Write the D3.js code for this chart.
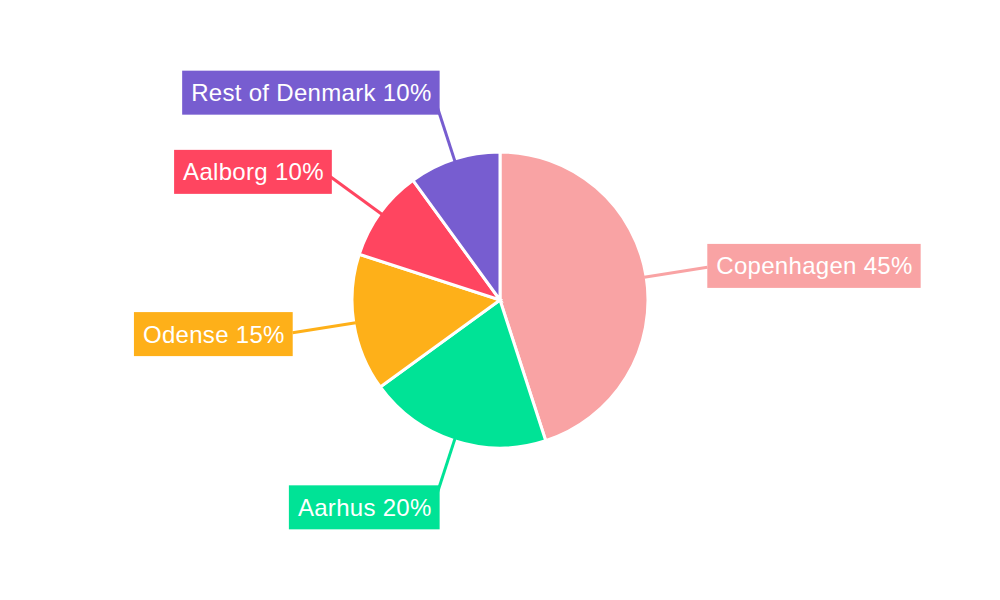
<!DOCTYPE html>
<html>
<head>
<meta charset="utf-8">
<script src="https://cdn.jsdelivr.net/npm/d3@7"></script>
<style>
  body { margin: 0; background: #fff; }
  text { font-family: "Liberation Sans", Arial, sans-serif; }
</style>
</head>
<body>
<svg id="chart" width="1000" height="600"></svg>
<script>
var regions = ['Copenhagen', 'Aarhus', 'Odense', 'Aalborg', 'Rest of Denmark'];
var shares = [45, 20, 15, 10, 10];
var colors = ['#F9A3A4', '#00E396', '#FEB019', '#FF4560', '#775DD0'];

var W = 1000, H = 600;
var cx = 500, cy = 300;
var radius = 148;
var labelR = 210;
var pad = 8.5;

var svg = d3.select('#chart');
var g = svg.append('g').attr('transform', 'translate(' + cx + ',' + cy + ')');

var data = regions.map(function (r, i) { return { name: r, val: shares[i], color: colors[i] }; });

var pie = d3.pie().sort(null).value(function (d) { return d.val; });
var arcs = pie(data);

var arc = d3.arc().innerRadius(0).outerRadius(radius);

// slices
g.selectAll('path.slice')
  .data(arcs)
  .enter()
  .append('path')
  .attr('class', 'slice')
  .attr('d', arc)
  .style('fill', function (d) { return d.data.color; })
  .style('stroke', '#fff')
  .style('stroke-width', 3);

function midAngle(d) { return (d.startAngle + d.endAngle) / 2; }

function pointAt(a, r) {
  return [r * Math.sin(a), -r * Math.cos(a)];
}

// connector lines
g.selectAll('line.conn')
  .data(arcs)
  .enter()
  .append('line')
  .attr('class', 'conn')
  .each(function (d) {
    var a = midAngle(d);
    var p0 = pointAt(a, radius - 2);
    var p1 = pointAt(a, labelR);
    d3.select(this)
      .attr('x1', p0[0]).attr('y1', p0[1])
      .attr('x2', p1[0]).attr('y2', p1[1]);
  })
  .style('stroke', function (d) { return d.data.color; })
  .style('stroke-width', 3);

// label boxes
var labels = g.selectAll('g.lbl')
  .data(arcs)
  .enter()
  .append('g')
  .attr('class', 'lbl');

labels.each(function (d) {
  var a = midAngle(d);
  var p = pointAt(a, labelR);
  var right = Math.sin(a) >= 0;
  var c = Math.cos(a);

  var grp = d3.select(this);
  var rect = grp.append('rect').style('fill', d.data.color);
  var txt = grp.append('text')
    .text(d.data.name + ' ' + d.data.val + '%')
    .style('font-size', '24px')
    .style('letter-spacing', '0.3px')
    .style('fill', '#fff');

  var tw = txt.node().getComputedTextLength();
  var bw = tw + pad * 2;
  var bh = 44;
  var xOff = 5 * c * c;
  var x0 = right ? p[0] - xOff : p[0] + xOff - bw;
  var yc = p[1] - 8 * c;

  rect.attr('x', x0).attr('y', yc - bh / 2).attr('width', bw).attr('height', bh);
  txt.attr('x', x0 + pad + 0.5).attr('y', yc + 8.5);
});
</script>
</body>
</html>
